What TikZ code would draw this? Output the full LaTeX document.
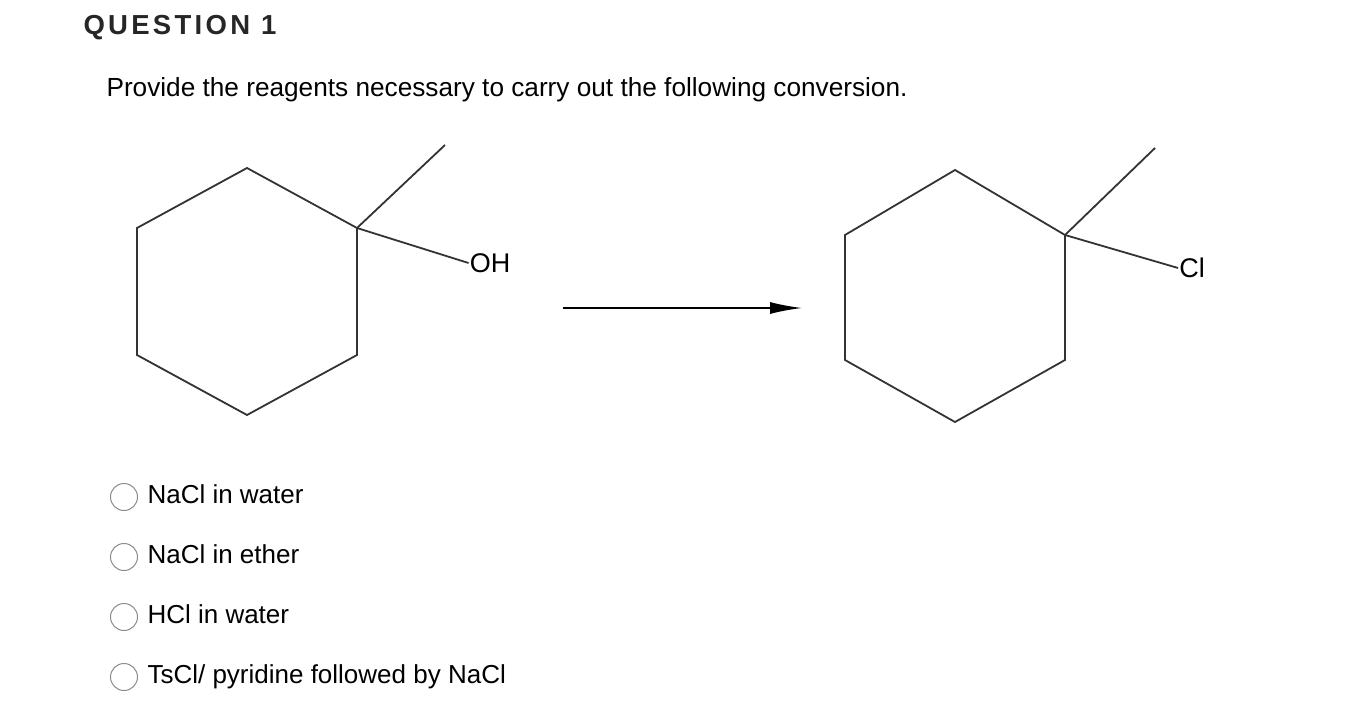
\documentclass[tikz,border=0pt]{standalone}
\usepackage{fontspec}
\setmainfont{Liberation Sans}
\newfontfamily\titlefont[LetterSpace=12]{Liberation Sans}
\usetikzlibrary{arrows.meta}
\begin{document}
\begin{tikzpicture}[x=1pt,y=-1pt,
  bond/.style={line width=1.8pt,black!80},
  opt/.style={anchor=base west,font=\fontsize{26}{30}\selectfont},
  radio/.style={circle,draw=black!45,line width=1pt,minimum size=27pt,inner sep=0pt,fill=white}]
\useasboundingbox (0,0) rectangle (1356,714);
\node[anchor=west,font=\titlefont\bfseries\fontsize{27.5}{32}\selectfont,text=black!85] (title) at (80,28) {QUESTION 1};
\node[anchor=west,font=\fontsize{26.2}{30}\selectfont] (q) at (103,90) {Provide the reagents necessary to carry out the following conversion.};
% left molecule
\coordinate (a1) at (247,168); \coordinate (a2) at (357,228); \coordinate (a3) at (357,355);
\coordinate (a4) at (247,415); \coordinate (a5) at (137,355); \coordinate (a6) at (137,228);
\draw[bond] (a1)--(a2)--(a3)--(a4)--(a5)--(a6)--cycle;
\coordinate (m1) at (445,145);
\draw[bond] (a2)--(m1);
\node[font=\fontsize{27}{30}\selectfont,inner sep=1pt] (oh) at (490,263) {OH};
\draw[bond] (a2)--(oh.west);
% arrow
\coordinate (s) at (563,308); \coordinate (e) at (802,308);
\draw[line width=1.6pt,-{Latex[length=32pt,width=12pt]}] (s)--(e);
% right molecule
\coordinate (b1) at (955,170); \coordinate (b2) at (1065,235); \coordinate (b3) at (1065,360);
\coordinate (b4) at (955,422); \coordinate (b5) at (845,360); \coordinate (b6) at (845,235);
\draw[bond] (b1)--(b2)--(b3)--(b4)--(b5)--(b6)--cycle;
\coordinate (m2) at (1155,148);
\draw[bond] (b2)--(m2);
\node[font=\fontsize{27}{30}\selectfont,inner sep=1pt] (cl) at (1192,268) {Cl};
\draw[bond] (b2)--(cl.west);
% options
\foreach \y/\t [count=\i] in {497/{NaCl in water},557/{NaCl in ether},617/{HCl in water},677/{TsCl/ pyridine followed by NaCl}}{
  \node[radio] (r\i) at (124,\y) {};
  \node[opt] (o\i) at (144,\y+6) {\t};
}
\end{tikzpicture}
\end{document}
